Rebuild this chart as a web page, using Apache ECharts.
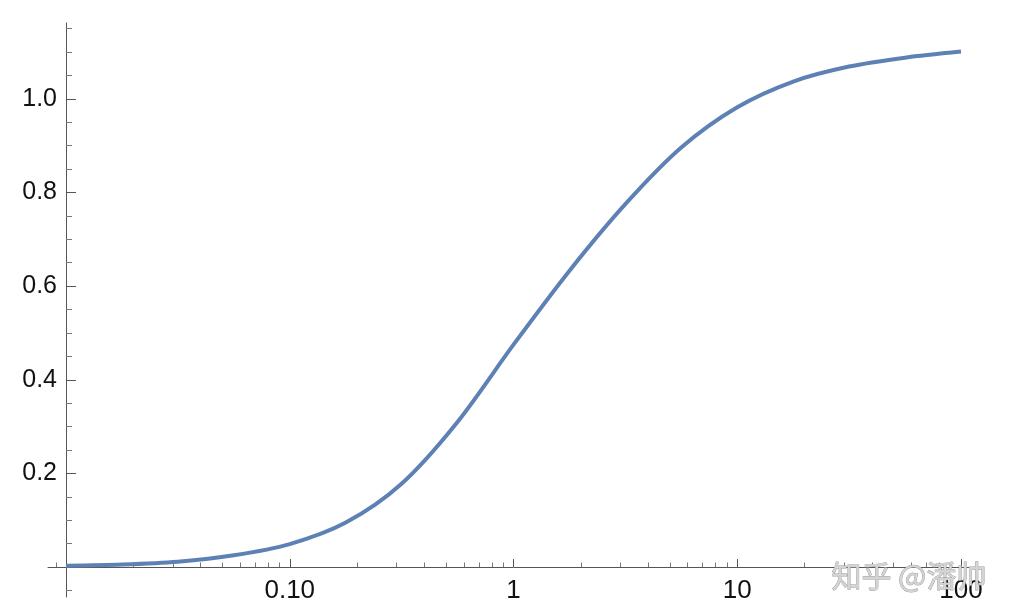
<!DOCTYPE html>
<html>
<head>
<meta charset="utf-8">
<script src="https://cdn.jsdelivr.net/npm/echarts@6/dist/echarts.min.js"></script>
<style>
  html, body { margin: 0; padding: 0; background: #fff; }
  #chart { width: 1015px; height: 616px; }
</style>
</head>
<body>
<div id="chart"></div>
<script>
// curve, at quarter decades of x (log scale)
const xValues = [0.01, 0.0178, 0.0316, 0.0562, 0.1, 0.178, 0.316, 0.562, 1, 1.78, 3.16, 5.62, 10, 17.8, 31.6, 56.2, 100];
const yValues = [0.003, 0.0055, 0.0115, 0.025, 0.049, 0.095, 0.178, 0.31, 0.475, 0.633, 0.775, 0.896, 0.982, 1.037, 1.069, 1.088, 1.101];

const xMajorTicks = [0.1, 1, 10, 100];
const xMajorLabels = ['0.10', '1', '10', '100'];
const xMinorTicks = [0.009, 0.02, 0.03, 0.04, 0.05, 0.06, 0.07, 0.08, 0.09,
  0.2, 0.3, 0.4, 0.5, 0.6, 0.7, 0.8, 0.9, 2, 3, 4, 5, 6, 7, 8, 9,
  20, 30, 40, 50, 60, 70, 80, 90];

const yMajorTicks = [0.2, 0.4, 0.6, 0.8, 1.0];
const yMajorLabels = ['0.2', '0.4', '0.6', '0.8', '1.0'];
const yMinorTicks = [-0.05, 0.05, 0.1, 0.15, 0.25, 0.3, 0.35, 0.45, 0.5, 0.55,
  0.65, 0.7, 0.75, 0.85, 0.9, 0.95, 1.05, 1.1, 1.15];

const xMin = 0.008307, xMax = 120.38;
const yMin = -0.064, yMax = 1.162;
const logMin = Math.log10(xMin), logMax = Math.log10(xMax);

const axisColor = '#555';

const chart = echarts.init(document.getElementById('chart'));

function pickLabel(ticks, labels, v, toKey) {
  for (let i = 0; i < ticks.length; i++) {
    if (Math.abs(toKey(ticks[i]) - v) < 1e-6) return labels[i];
  }
  return '';
}

// x axes sit on y = 0, which is 30px above the grid bottom
const xOffset = -30;
const yOffset = -18;

const option = {
  animation: false,
  grid: { left: 48, right: 36, top: 23, bottom: 19, outerBoundsMode: 'none', containLabel: false },
  xAxis: [
    {
      type: 'log', logBase: 10, min: xMin, max: xMax, position: 'bottom', offset: xOffset,
      axisLine: { show: true, onZero: false, lineStyle: { color: axisColor, width: 1 } },
      axisTick: { show: false }, axisLabel: { show: false }, splitLine: { show: false }
    },
    {
      type: 'value', min: logMin, max: logMax, position: 'bottom', offset: xOffset,
      axisLine: { show: false, onZero: false },
      axisTick: { show: true, inside: true, length: 8, customValues: xMajorTicks.map(Math.log10),
        lineStyle: { color: axisColor } },
      axisLabel: { show: true, margin: 11, customValues: xMajorTicks.map(Math.log10),
        fontFamily: 'Liberation Sans', fontSize: 26, color: '#111',
        formatter: v => pickLabel(xMajorTicks, xMajorLabels, v, Math.log10) },
      splitLine: { show: false }
    },
    {
      type: 'value', min: logMin, max: logMax, position: 'bottom', offset: xOffset,
      axisLine: { show: false, onZero: false },
      axisTick: { show: true, inside: true, length: 4.5, customValues: xMinorTicks.map(Math.log10),
        lineStyle: { color: '#777' } },
      axisLabel: { show: false }, splitLine: { show: false }
    }
  ],
  yAxis: [
    {
      type: 'value', min: yMin, max: yMax, position: 'left', offset: yOffset,
      axisLine: { show: true, onZero: false, lineStyle: { color: axisColor, width: 1 } },
      axisTick: { show: true, inside: true, length: 10, customValues: yMajorTicks,
        lineStyle: { color: axisColor } },
      axisLabel: { show: true, margin: 9, customValues: yMajorTicks,
        fontFamily: 'Liberation Sans', fontSize: 25, color: '#111',
        formatter: v => pickLabel(yMajorTicks, yMajorLabels, v, t => t) },
      splitLine: { show: false }
    },
    {
      type: 'value', min: yMin, max: yMax, position: 'left', offset: yOffset,
      axisLine: { show: false, onZero: false },
      axisTick: { show: true, inside: true, length: 6, customValues: yMinorTicks,
        lineStyle: { color: '#777' } },
      axisLabel: { show: false }, splitLine: { show: false }
    }
  ],
  series: [{
    type: 'line',
    xAxisIndex: 0, yAxisIndex: 0,
    data: xValues.map((x, i) => [x, yValues[i]]),
    smooth: 0.3,
    showSymbol: false,
    lineStyle: { color: '#5e81b5', width: 4 },
    z: 3
  }],
  graphic: [{
    type: 'text', left: 831, top: 560, z: 10,
    style: {
      text: '知乎 @潘帅', font: '30px "Noto Sans CJK SC"',
      fill: '#d4d4d4', stroke: '#9a9a9a', lineWidth: 0.8
    }
  }]
};

option && chart.setOption(option);
</script>
</body>
</html>
